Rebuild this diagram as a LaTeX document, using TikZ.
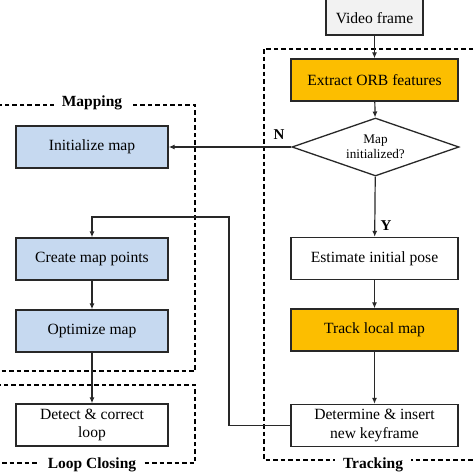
\documentclass[tikz,border=0pt]{standalone}
\usepackage{fontspec}
\setmainfont{Liberation Serif}
\usetikzlibrary{shapes.geometric,arrows.meta}
\definecolor{orangefill}{RGB}{252,190,0}
\definecolor{bluefill}{RGB}{198,217,240}
\definecolor{grayfill}{RGB}{242,242,242}
\definecolor{edge}{RGB}{40,40,40}
\tikzset{
  box/.style={draw=edge, line width=1.3pt, minimum height=42pt, inner sep=2pt, align=center, font=\fontsize{15.6}{17}\selectfont},
  rbox/.style={box, minimum width=167pt},
  lbox/.style={box, minimum width=152pt},
  region/.style={draw=black, line width=1.2pt, dash pattern=on 4.5pt off 3pt},
  rlabel/.style={fill=white, inner xsep=8pt, inner ysep=1pt, font=\fontsize{15.5}{17}\selectfont\bfseries},
  conn/.style={draw=edge, line width=1.2pt, -{Latex[length=6pt,width=5pt]}},
  yn/.style={font=\fontsize{15}{16}\selectfont\bfseries},
  twoline/.style={font=\fontsize{15.6}{18.5}\selectfont}
}
\begin{document}
\begin{tikzpicture}[x=1pt,y=-1pt]
\clip (0,0) rectangle (474,474);
\fill[white] (0,0) rectangle (474,474);
% regions
\draw[region] (-10,105) rectangle (195,371);
\draw[region] (-10,385) rectangle (195,463);
\draw[region] (264,49) rectangle (490,460);
\node[rlabel] (lmap) at (92,103) {Mapping};
\node[rlabel] (lloop) at (92,465) {Loop Closing};
\node[rlabel] (ltrack) at (373,465) {Tracking};
% tracking column
\node[rbox, minimum width=97pt, minimum height=50pt, fill=grayfill] (video) at (374.5,10) {};
\node[font=\fontsize{15.6}{17}\selectfont, inner sep=0pt] (vtext) at (374.5,18) {Video frame};
\node[rbox, fill=orangefill] (orb) at (374.5,80) {Extract ORB features};
\node[diamond, draw=edge, line width=1.3pt, aspect=2.9, inner sep=0pt, minimum width=167pt, minimum height=58pt, align=center, font=\fontsize{13.2}{14.5}\selectfont] (dec) at (375.5,147) {Map\\initialized?};
\node[rbox, fill=white] (pose) at (374.5,258.5) {Estimate initial pose};
\node[rbox, fill=orangefill] (track) at (374.5,330) {Track local map};
\node[rbox, fill=white, twoline] (kf) at (374.5,425.5) {Determine \& insert\\new keyframe};
% mapping column
\node[lbox, fill=bluefill] (init) at (92,147) {Initialize map};
\node[lbox, fill=bluefill] (create) at (92,259) {Create map points};
\node[lbox, fill=bluefill] (opt) at (92,331) {Optimize map};
\node[lbox, fill=white, twoline] (loop) at (92,425) {Detect \& correct\\loop};
% connectors
\draw[conn] (video) -- (orb);
\draw[conn] (orb) -- (dec);
\draw[conn] (dec) -- node[yn, pos=0.82, right=2pt] (ylab) {Y} (pose);
\draw[conn] (dec.west) -- node[yn, pos=0.1, above=4pt] (nlab) {N} (init.east);
\draw[conn] (pose) -- (track);
\draw[conn] (track) -- (kf);
\coordinate (c1) at (229,425.5);
\coordinate (c2) at (229,217);
\coordinate (c3) at (92,217);
\draw[conn] (kf.west) -- (c1) -- (c2) -- (c3) -- (create.north);
\draw[conn] (create) -- (opt);
\draw[conn] (opt) -- (loop);
\end{tikzpicture}
\end{document}
